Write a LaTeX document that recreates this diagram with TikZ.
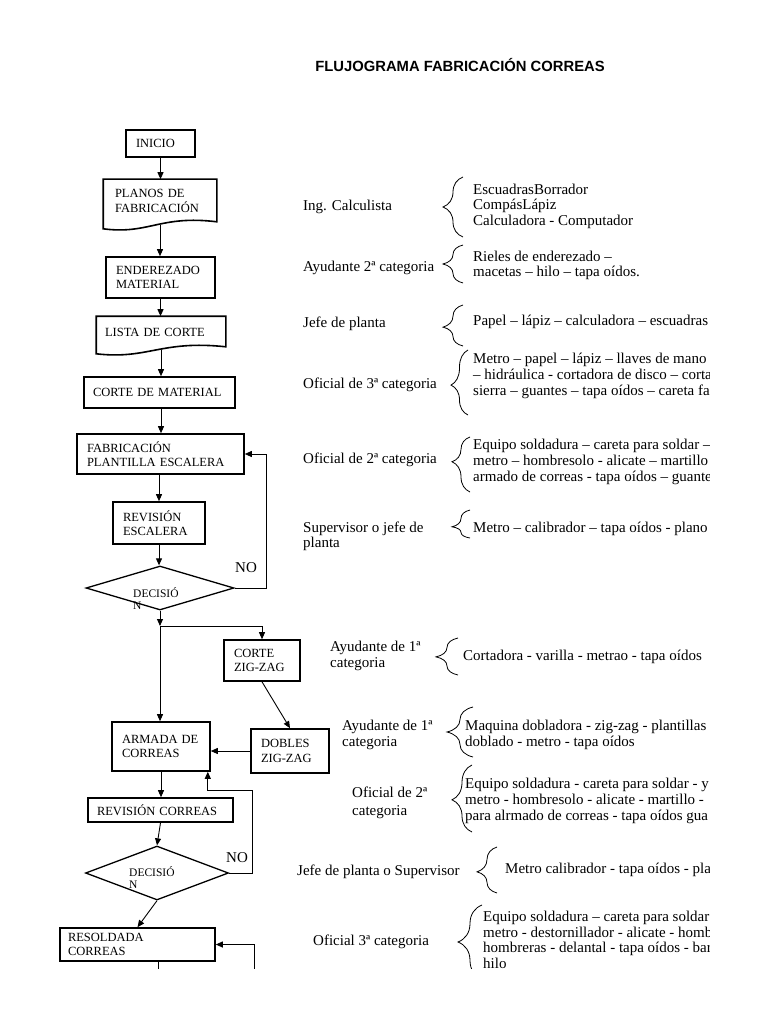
\documentclass[tikz,border=0pt]{standalone}
\usepackage{fontspec}
\setmainfont{Liberation Serif}
\newfontfamily\titlefont{Liberation Sans}
\usetikzlibrary{arrows.meta,shapes.geometric,decorations.pathreplacing,calc}
\newcommand\boxfont{\fontsize{12.5}{14.5}\selectfont}
\newcommand\sidefont{\fontsize{15}{15.6}\selectfont}
\newcommand\docoutline[1]{%
  \draw[boxline] (#1.north west) -- (#1.north east) -- ($(#1.south east)+(0,-1)$)
    .. controls ($(#1.south west)!0.5!(#1.south east)+(0,-8)$) and ($(#1.south west)!0.4!(#1.south east)+(0,12)$) ..
    ($(#1.south west)+(0,6)$) -- cycle;}
\begin{document}
\begin{tikzpicture}[x=1pt,y=-1pt,
  boxline/.style={line width=1.6pt},
  flowbox/.style={draw, boxline, rectangle, align=left, inner xsep=10pt, inner ysep=0pt, font=\boxfont},
  docbox/.style={rectangle, align=left, inner xsep=10pt, inner ysep=0pt, font=\boxfont, outer sep=0.8pt},
  decbox/.style={draw, line width=1.3pt, diamond, inner sep=0pt},
  dectext/.style={font=\fontsize{11.5}{12}\selectfont, align=left, inner sep=0pt, anchor=west},
  nolabel/.style={font=\fontsize{15}{16}\selectfont, inner sep=0pt},
  arr/.style={line width=0.9pt, -{Triangle[length=7pt,width=6pt]}},
  conn/.style={line width=0.9pt},
  role/.style={font=\sidefont, align=left, inner sep=0pt, anchor=west},
  item/.style={font=\sidefont, align=left, inner sep=0pt, anchor=west},
  bracel/.style 2 args={decorate, line width=0.8pt, decoration={brace, amplitude=#1, aspect=#2}},
]
\useasboundingbox (0,0) rectangle (768,1024);
\fill[white] (0,0) rectangle (768,1024);
\begin{scope}
\clip (0,0) rectangle (709,968);

\node[font=\titlefont\bfseries\fontsize{14.8}{17}\selectfont, inner sep=0pt] (title) at (460,65) {FLUJOGRAMA FABRICACIÓN CORREAS};

% ---------- flowchart ----------
\node[flowbox, minimum width=69pt, text width=49pt, minimum height=27pt] (inicio) at (160.5,143.5) {INICIO};
\node[docbox, minimum width=112pt, text width=90pt, minimum height=42pt] (planos) at (160,201) {PLANOS DE\\FABRICACIÓN};
\docoutline{planos}
\node[flowbox, minimum width=109pt, text width=89pt, minimum height=41pt] (endereza) at (160.5,277.5) {ENDEREZADO\\MATERIAL};
\node[docbox, inner xsep=8pt, minimum width=128pt, text width=112pt, minimum height=30pt] (lista) at (161,332) {\mbox{LISTA DE CORTE}};
\docoutline{lista}
\node[flowbox, inner xsep=9pt, minimum width=151pt, text width=133pt, minimum height=31pt] (corte) at (159.5,392.5) {\mbox{CORTE DE MATERIAL}};
\node[flowbox, minimum width=167pt, text width=147pt, minimum height=40pt] (fab) at (160.5,454) {FABRICACIÓN\\\mbox{PLANTILLA ESCALERA}};
\node[flowbox, minimum width=92pt, text width=72pt, minimum height=42pt] (revesc) at (159,523) {REVISIÓN\\ESCALERA};
\node[decbox, minimum width=148pt, minimum height=44pt] (dec1) at (160,588) {};
\node[dectext] (dec1t) at (133,599) {DECISIÓ\\N};
\node[nolabel] (no1t) at (246,568) {NO};
\node[flowbox, minimum width=76pt, text width=56pt, minimum height=41pt] (cortezz) at (262,660.5) {CORTE\\ZIG-ZAG};
\node[flowbox, minimum width=78pt, text width=58pt, minimum height=44pt] (dobles) at (290,751) {DOBLES\\ZIG-ZAG};
\node[flowbox, minimum width=98pt, text width=78pt, minimum height=49pt] (armada) at (161,746.5) {ARMADA DE\\CORREAS};
\node[flowbox, inner xsep=9pt, minimum width=145pt, text width=127pt, minimum height=24pt] (revcor) at (160.5,810) {\mbox{REVISIÓN CORREAS}};
\node[decbox, minimum width=143pt, minimum height=54pt] (dec2) at (157,873) {};
\node[dectext] (dec2t) at (129,878) {DECISIÓ\\N};
\node[nolabel] (no2t) at (237,858) {NO};
\node[flowbox, inner xsep=8pt, minimum width=155pt, text width=139pt, minimum height=33pt] (resold) at (137.5,944.5) {RESOLDADA\\CORREAS};

\coordinate (no1) at (266,588);
\coordinate (j1) at (160,626);
\coordinate (no2) at (252,790);
\coordinate (r1) at (254,990);
\coordinate (r2) at (158,990);

\draw[arr] (inicio.south) -- (inicio.south |- planos.north);
\draw[arr] ($(planos.south)+(0,2)$) -- (planos.south |- endereza.north);
\draw[arr] (endereza.south) -- (endereza.south |- lista.north);
\draw[arr] ($(lista.south)+(0,2)$) -- (lista.south |- corte.north);
\draw[arr] (corte.south -| lista.south) -- (lista.south |- fab.north);
\draw[arr] (fab.south -| revesc.south) -- (revesc.north);
\draw[arr] (revesc.south) -- (revesc.south |- dec1.north);
\draw[arr] (dec1.east) -- (no1) |- (fab.east);
\draw[arr] (dec1.south) -- (j1);
\draw[arr] (j1) -- (j1 |- armada.north);
\draw[arr] (j1) -| (cortezz.north);
\draw[arr] (cortezz.south) -- (dobles.north);
\draw[arr] (dobles.west) -- (armada.east |- dobles.west);
\draw[arr] (armada.south) -- (armada.south |- revcor.north);
\draw[arr] (revcor.south) -- (dec2.north);
\draw[arr] (dec2.east) -| (no2) -| ($(armada.south east)+(-3,0)$);
\draw[arr] (dec2.south) -- (resold.north);
\draw[arr] (r1) |- (resold.east);
\draw[conn] (resold.south -| r2) -- (r2);

% ---------- right column ----------
\node[role] (g1r) at (303,207) {Ing. Calculista};
\draw[bracel={20pt}{0.5}] (463,237) -- (463,177);
\node[item] (g1i) at (473,206) {EscuadrasBorrador\\CompásLápiz\\Calculadora - Computador};

\node[role] (g2r) at (303,268) {Ayudante 2ª categoria};
\draw[bracel={20pt}{0.5}] (463,283) -- (463,245);
\node[item] (g2i) at (473,265.5) {Rieles de enderezado –\\macetas – hilo – tapa oídos.};

\node[role] (g3r) at (303,324) {Jefe de planta};
\draw[bracel={20pt}{0.46}] (463,346) -- (463,305);
\node[item] (g3i) at (473,322) {Papel – lápiz – calculadora – escuadras};

\node[role] (g4r) at (303,385) {Oficial de 3ª categoria};
\draw[bracel={17pt}{0.46}] (468,415) -- (468,350);
\node[item] (g4i) at (473,376) {Metro – papel – lápiz – llaves de mano\\– hidráulica - cortadora de disco – corta\\sierra – guantes – tapa oídos – careta fa};

\node[role] (g5r) at (303,460) {Oficial de 2ª categoria};
\draw[bracel={18pt}{0.55}] (470,492) -- (470,437);
\node[item] (g5i) at (473,462) {Equipo soldadura – careta para soldar –\\metro – hombresolo - alicate – martillo\\armado de correas - tapa oídos – guante};

\node[role] (g6r) at (303,536.5) {Supervisor o jefe de\\planta};
\draw[bracel={18pt}{0.4}] (470,538) -- (470,510);
\node[item] (g6i) at (473,529) {Metro – calibrador – tapa oídos - plano};

\node[role] (g7r) at (330,656) {Ayudante de 1ª\\categoria};
\draw[bracel={22pt}{0.49}] (458,675) -- (458,638);
\node[item] (g7i) at (463,657) {Cortadora - varilla - metrao - tapa oídos};

\node[role] (g8r) at (342,735) {Ayudante de 1ª\\categoria};
\draw[bracel={26pt}{0.5}] (473,757) -- (473,707);
\node[item] (g8i) at (465,735) {Maquina dobladora - zig-zag - plantillas\\doblado - metro - tapa oídos};

\node[role] (g9r) at (352,803) {Oficial de 2ª\\[3pt]categoria};
\draw[bracel={20pt}{0.48}] (472,832) -- (472,765);
\node[item] (g9i) at (465,801) {Equipo soldadura - careta para soldar - y\\metro - hombresolo - alicate - martillo -\\para alrmado de correas - tapa oídos gua};

\node[role] (g10r) at (297,872) {Jefe de planta o Supervisor};
\draw[bracel={20pt}{0.46}] (497,893) -- (497,847);
\node[item] (g10i) at (505,870) {Metro calibrador - tapa oídos - pla};

\node[role] (g11r) at (313,942) {Oficial 3ª categoria};
\draw[bracel={24pt}{0.5}] (482,979) -- (482,905);
\node[item] (g11i) at (483,940) {Equipo soldadura – careta para soldar\\metro - destornillador - alicate - homb\\hombreras - delantal - tapa oídos - bar\\hilo};
\end{scope}
\end{tikzpicture}
\end{document}
